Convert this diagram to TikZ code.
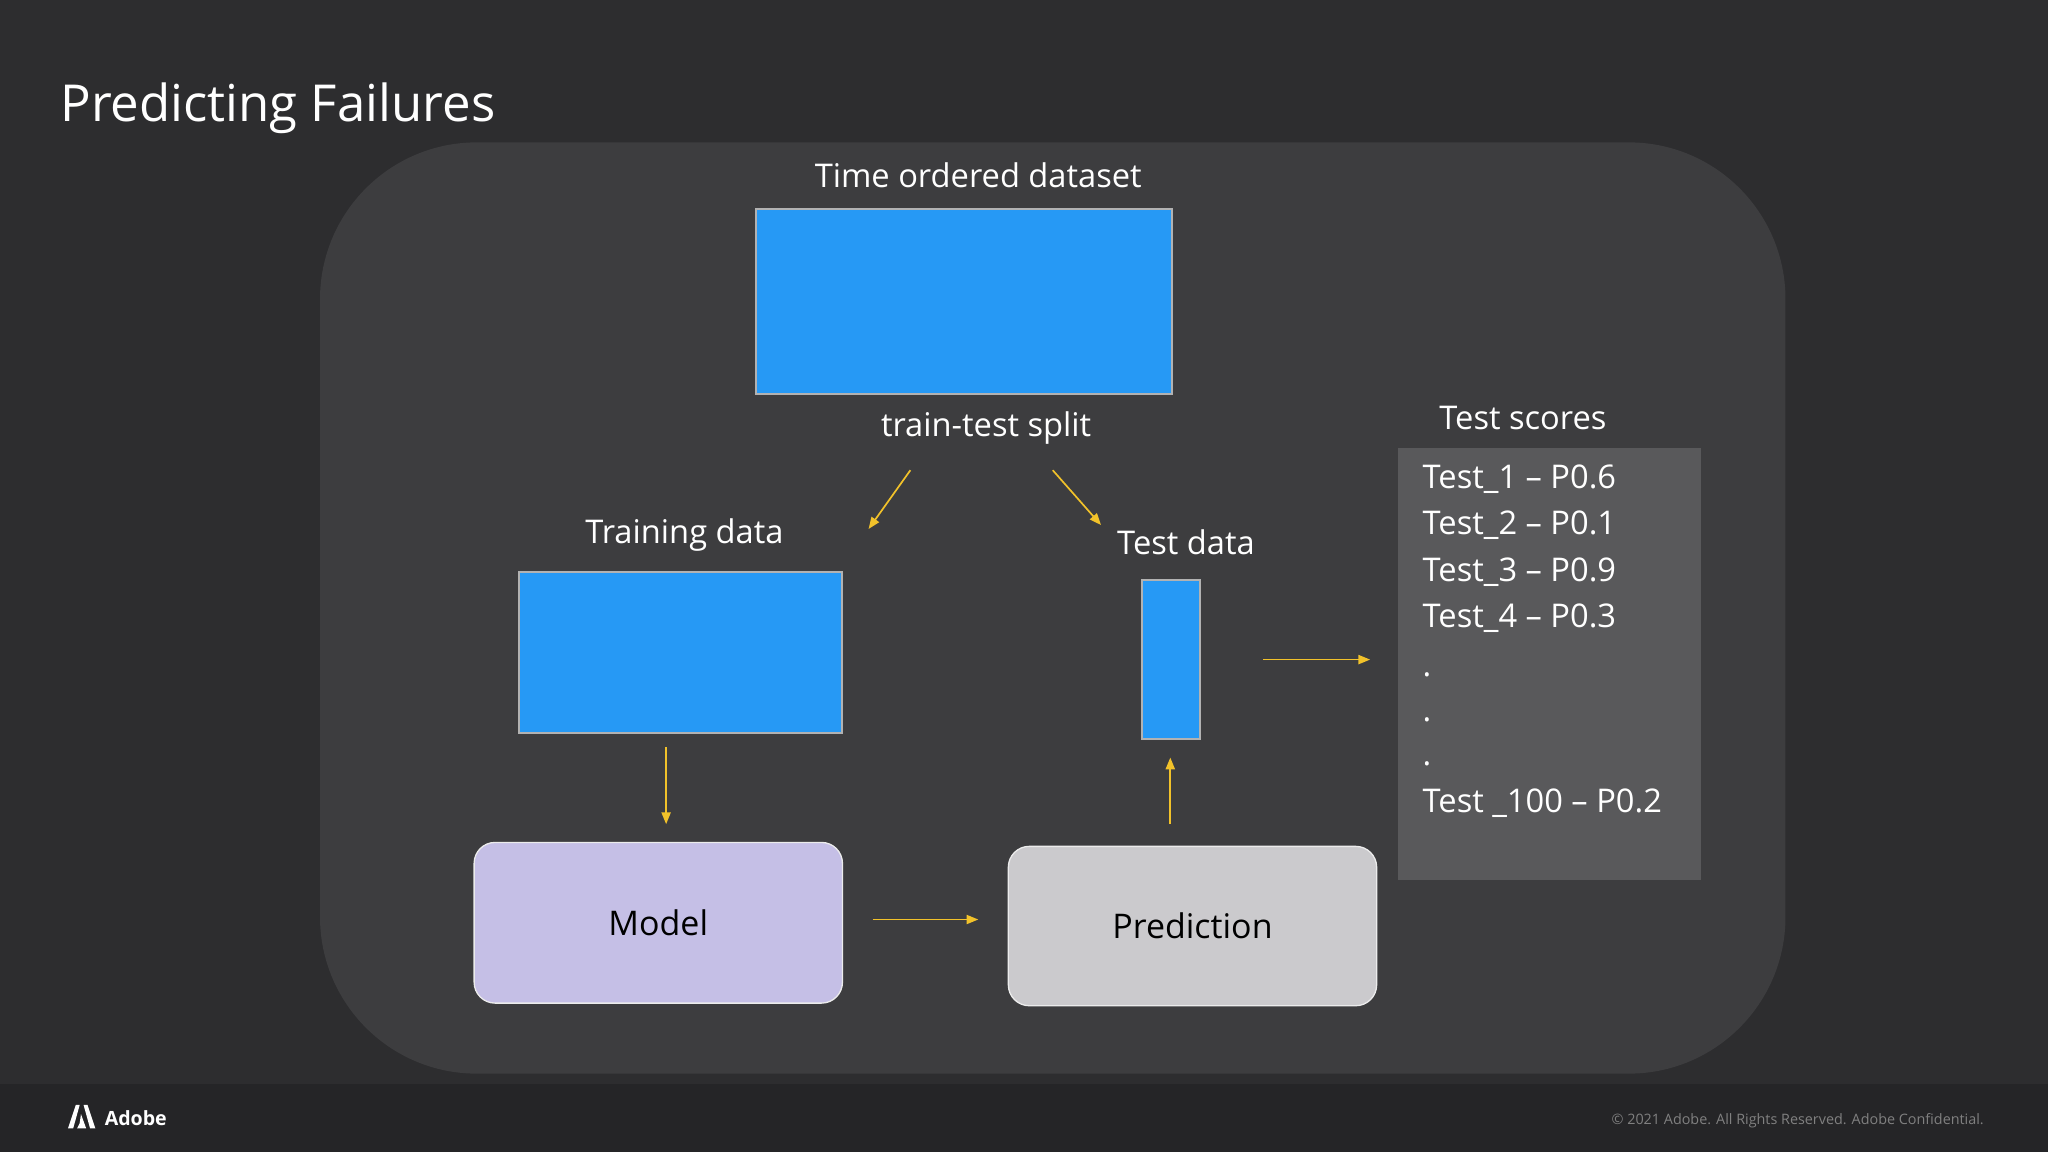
\documentclass[tikz,border=0pt]{standalone}
\usepackage{fontspec}
\setmainfont{Open Sans}
\usetikzlibrary{arrows.meta}
\definecolor{bg}{HTML}{2D2D2F}
\definecolor{foot}{HTML}{252527}
\definecolor{panel}{HTML}{3D3D3F}
\definecolor{blu}{HTML}{2699F5}
\definecolor{arr}{HTML}{F2C22A}
\definecolor{lav}{HTML}{C5BFE6}
\definecolor{lgray}{HTML}{CBCACD}
\definecolor{sbox}{HTML}{59595B}
\begin{document}
\begin{tikzpicture}[x=1pt,y=-1pt,
  lbl/.style={text=white,font=\fontsize{25}{28}\selectfont,inner sep=0},
  blk/.style={fill=blu,draw=gray!60!white,line width=1.5pt},
  ar/.style={draw=arr,line width=1.3pt,-{Triangle[length=9pt,width=7pt]}},
  box/.style={rounded corners=16pt,draw=white!85!gray,line width=1pt,font=\fontsize{26}{29}\selectfont,text=black},
  sc/.style={text=white,font=\fontsize{25}{28}\selectfont,anchor=west,inner sep=0}]
\fill[bg] (0,0) rectangle (1568,882);
\useasboundingbox (0,0) rectangle (1568,882);
\fill[foot] (0,830) rectangle (1568,882);
\fill[panel,rounded corners=120pt] (245,109) rectangle (1367,822);
\node[anchor=west,text=white,font=\fontsize{39}{43}\selectfont,inner sep=0] (title) at (46,83) {Predicting Failures};
\node[lbl] (tod) at (749,134) {Time ordered dataset};
\node[blk,minimum width=318pt,minimum height=142pt] (ds) at (738,231) {};
\node[lbl] (tts) at (755,328) {train-test split};
\node[lbl] (trl) at (524,410) {Training data};
\node[blk,minimum width=248pt,minimum height=123pt] (tr) at (521,499.5) {};
\node[lbl] (tel) at (908,415) {Test data};
\node[blk,minimum width=45pt,minimum height=122pt] (te) at (896.5,505) {};
\node[box,fill=lav,minimum width=282pt,minimum height=123pt] (model) at (504,706.5) {Model};
\node[box,fill=lgray,minimum width=282pt,minimum height=122pt] (pred) at (913,709) {Prediction};
\node[lbl] (tsl) at (1166,320) {Test scores};
\node[fill=sbox,minimum width=232pt,minimum height=331pt,inner sep=0] (sb) at (1186,508.5) {};
\node[sc] (s1) at (1089,367) {Test\_1 – P0.6};
\node[sc] (s2) at (1089,402) {Test\_2 – P0.1};
\node[sc] (s3) at (1089,438) {Test\_3 – P0.9};
\node[sc] (s4) at (1089,473) {Test\_4 – P0.3};
\node[sc] (d1) at (1089,517) {.};
\node[sc] (d2) at (1089,551) {.};
\node[sc] (d3) at (1089,585) {.};
\node[sc] (s100) at (1089,615) {Test \_100 – P0.2};
\coordinate (a1s) at (697,360); \coordinate (a1e) at (665,405);
\coordinate (a2s) at (806,360); \coordinate (a2e) at (843,402);
\draw[ar] (a1s) -- (a1e);
\draw[ar] (a2s) -- (a2e);
\coordinate (a3s) at (510,572); \coordinate (a3e) at (510,631);
\draw[ar] (a3s) -- (a3e);
\coordinate (a4s) at (668,704); \coordinate (a4e) at (749,704);
\draw[ar] (a4s) -- (a4e);
\coordinate (a5s) at (896,631); \coordinate (a5e) at (896,580);
\draw[ar] (a5s) -- (a5e);
\coordinate (a6s) at (967,505); \coordinate (a6e) at (1049,505);
\draw[ar] (a6s) -- (a6e);
% footer
\fill[white] (52,864) -- (58,846) -- (61,846) -- (56,864) -- cycle;
\fill[white] (64,846) -- (67,846) -- (73,864) -- (69,864) -- cycle;
\fill[white] (62,853) -- (66,864) -- (59,864) -- (61,860) -- cycle;
\node[anchor=west,text=white,font=\bfseries\fontsize{15}{17}\selectfont,inner sep=0] (adobe) at (80,856) {Adobe};
\node[anchor=east,text=gray,font=\fontsize{11}{13}\selectfont,inner sep=0] (copy) at (1519,858) {© 2021 Adobe. All Rights Reserved. Adobe Confidential.};
\end{tikzpicture}
\end{document}
